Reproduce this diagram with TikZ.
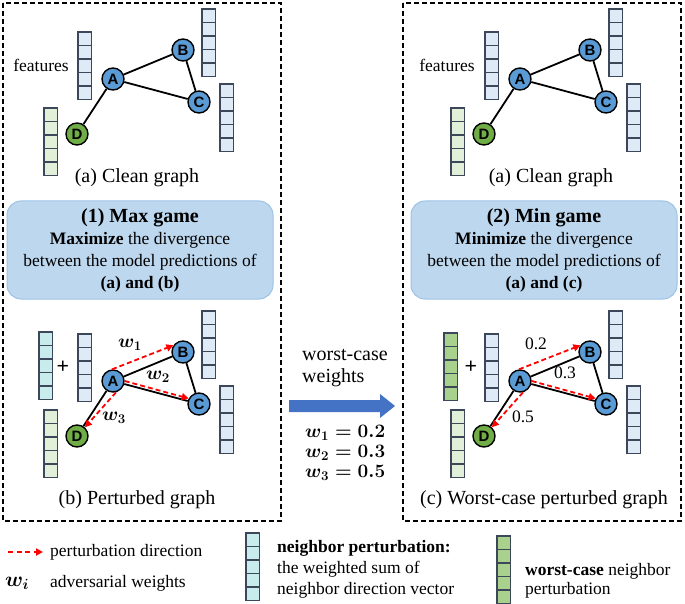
\RequirePackage{fix-cm}
\documentclass[tikz,border=0pt]{standalone}
\usepackage{fontspec}
\setmainfont{Liberation Serif}
\newfontfamily\lbsans{Liberation Sans}
\usetikzlibrary{arrows.meta}
\definecolor{featblue}{RGB}{222,235,247}
\definecolor{featgreen}{RGB}{226,240,217}
\definecolor{featteal}{RGB}{200,235,235}
\definecolor{wcgreen}{RGB}{169,209,142}
\definecolor{cellline}{RGB}{60,72,90}
\definecolor{nodeblue}{RGB}{91,155,213}
\definecolor{nodegreen}{RGB}{112,173,71}
\definecolor{boxfill}{RGB}{189,215,238}
\definecolor{boxline}{RGB}{157,195,230}
\definecolor{bigblue}{RGB}{68,114,196}
\newcommand\fcol[3]{% x, ytop, fill
  \foreach \k in {0,...,4} {\draw[fill=#3, draw=cellline, line width=1.1pt] (#1,#2+\k*13.5) rectangle ++(13.5,13.5);}
}
\newcommand\gpanel[4]{% prefix, dx, dy, Dcolumn fill
  \begin{scope}[shift={(#2,#3)}]
    \fcol{78}{32}{featblue}
    \fcol{202}{9}{featblue}
    \fcol{220}{84}{featblue}
    \fcol{44}{108}{#4}
    \node[gnode, fill=nodeblue] (#1A) at (113,79) {A};
    \node[gnode, fill=nodeblue] (#1B) at (183,50) {B};
    \node[gnode, fill=nodeblue] (#1C) at (199,102) {C};
    \node[gnode, fill=nodegreen] (#1D) at (77,134) {D};
    \draw[gedge] (#1A) -- (#1B);
    \draw[gedge] (#1B) -- (#1C);
    \draw[gedge] (#1A) -- (#1C);
    \draw[gedge] (#1A) -- (#1D);
  \end{scope}
}
\begin{document}
\begin{tikzpicture}[x=1pt,y=-1pt,
  gnode/.style={circle, draw=black, line width=1.4pt, minimum size=22pt, inner sep=0pt,
    font=\lbsans\bfseries\fontsize{15}{15}\selectfont},
  gedge/.style={draw=black, line width=1.8pt},
  pertarrow/.style={draw=red, line width=1.8pt, dash pattern=on 5pt off 3pt,
    -{Triangle[length=7pt,width=7pt]}},
  panelbox/.style={draw=black, line width=1.5pt, dash pattern=on 5pt off 3pt},
  gamebox/.style={draw=boxline, fill=boxfill, line width=1pt, rounded corners=14pt,
    minimum width=266pt, minimum height=98pt, align=center, inner sep=0pt,
    font=\fontsize{17.5}{22}\selectfont},
  caption/.style={font=\fontsize{20}{24}\selectfont, inner sep=0pt},
  txt/.style={font=\fontsize{17.5}{21}\selectfont, inner sep=0pt},
  mathlbl/.style={font=\fontsize{19}{21}\selectfont\boldmath, inner sep=0pt},
]
\useasboundingbox (0,0) rectangle (685,604);

% dashed panels
\draw[panelbox] (3,3) rectangle (281,521);
\draw[panelbox] (403,3) rectangle (681,521);

% graphs
\gpanel{p}{0}{0}{featgreen}
\gpanel{q}{0}{302}{featgreen}
\gpanel{r}{407}{0}{featgreen}
\gpanel{s}{407}{302}{featgreen}

% extra columns
\fcol{39}{332}{featteal}
\node[font=\fontsize{22}{22}\selectfont\bfseries, inner sep=0pt] (plus1) at (63,367) {+};
\fcol{444}{333}{wcgreen}
\node[font=\fontsize{22}{22}\selectfont\bfseries, inner sep=0pt] (plus2) at (471,367) {+};

% feature labels
\node[txt] (feat1) at (41,65) {features};
\node[txt] (feat2) at (447,65) {features};

% captions
\node[caption] (capa1) at (137,178) {(a) Clean graph};
\node[caption] (capa2) at (551,178) {(a) Clean graph};
\node[caption] (capb) at (137,500) {(b) Perturbed graph};
\node[caption] (capc) at (544,500) {(c) Worst-case perturbed graph};

% game boxes
\node[gamebox] (maxgame) at (140,250) {{\fontsize{20}{22}\selectfont\textbf{(1) Max game}}\\
  \textbf{Maximize} the divergence\\ between the model predictions of\\ \textbf{(a) and (b)}};
\node[gamebox] (mingame) at (544,250) {{\fontsize{20}{22}\selectfont\textbf{(2) Min game}}\\
  \textbf{Minimize} the divergence\\ between the model predictions of\\ \textbf{(a) and (c)}};

% perturbation arrows (b)
\draw[pertarrow] (qA.95) -- (qB.145);
\draw[pertarrow] (qA.0) -- (qC.152);
\draw[pertarrow] (qA.285) -- (qD.48);
\node[mathlbl] (w1) at (130,345) {$w_1$};
\node[mathlbl] (w2) at (158,377) {$w_2$};
\node[mathlbl] (w3) at (114,418) {$w_3$};

% perturbation arrows (c)
\draw[pertarrow] (sA.95) -- (sB.145);
\draw[pertarrow] (sA.0) -- (sC.152);
\draw[pertarrow] (sA.285) -- (sD.48);
\node[txt] (v1) at (536,344) {0.2};
\node[txt] (v2) at (565,373) {0.3};
\node[txt] (v3) at (523,417) {0.5};

% middle
\node[caption, anchor=west, align=left, font=\fontsize{20}{22}\selectfont] (wc) at (302,368) {worst-case\\weights};
\fill[bigblue] (289,400) -- (380,400) -- (380,394) -- (395,406) -- (380,418) -- (380,412) -- (289,412) -- cycle;
\node[mathlbl, anchor=west] (e1) at (305,433) {$w_1 = 0.2$};
\node[mathlbl, anchor=west] (e2) at (305,453) {$w_2 = 0.3$};
\node[mathlbl, anchor=west] (e3) at (305,473) {$w_3 = 0.5$};

% legend
\coordinate (la) at (8,552);
\coordinate (lb) at (43,552);
\draw[pertarrow, dash pattern=on 5pt off 3.5pt] (la) -- (lb);
\node[txt, anchor=west] (lg1) at (50,552) {perturbation direction};
\node[mathlbl, font=\fontsize{21}{22}\selectfont\boldmath] (lgw) at (17,583) {$w_i$};
\node[txt, anchor=west] (lg2) at (50,583) {adversarial weights};
\fcol{246}{533}{featteal}
\node[txt, anchor=west, align=left] (lg3) at (277,569) {\textbf{neighbor perturbation:}\\the weighted sum of\\neighbor direction vector};
\fcol{497}{536}{wcgreen}
\node[txt, anchor=west, align=left, font=\fontsize{17.5}{19}\selectfont] (lg4) at (525,581) {\textbf{worst-case} neighbor\\perturbation};
\end{tikzpicture}
\end{document}
